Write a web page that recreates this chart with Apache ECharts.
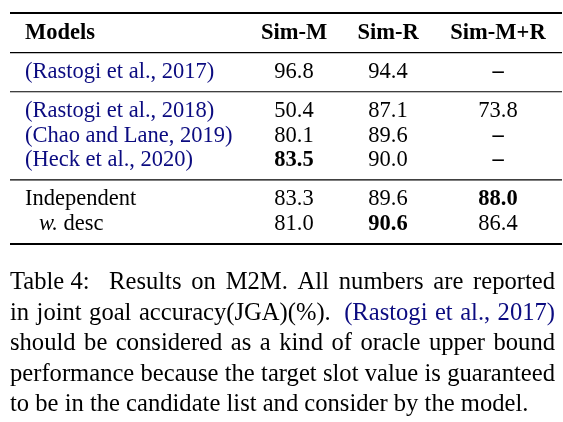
<!DOCTYPE html>
<html>
<head>
<meta charset="utf-8">
<script src="https://cdn.jsdelivr.net/npm/echarts@6/dist/echarts.min.js"></script>
<style>
html,body{margin:0;padding:0;background:#fff;}
#chart{width:563px;height:422px;}
</style>
</head>
<body>
<div id="chart"></div>
<script>
// ---- data ----
const columns = ['Models', 'Sim-M', 'Sim-R', 'Sim-M+R'];
const models = ['(Rastogi et al., 2017)', '(Rastogi et al., 2018)', '(Chao and Lane, 2019)', '(Heck et al., 2020)', 'Independent', 'w. desc'];
const simM = ['96.8', '50.4', '80.1', '83.5', '83.3', '81.0'];
const simR = ['94.4', '87.1', '89.6', '90.0', '89.6', '90.6'];
const simMR = ['–', '73.8', '–', '–', '88.0', '86.4'];
const rowGroups = [1, 2, 2, 2, 3, 3];
const isCitation = [true, true, true, true, false, false];
const isIndented = [false, false, false, false, false, true];
// bold (best) cells: [rowIndex, columnName]
const bestCells = [[3, 'Sim-M'], [5, 'Sim-R'], [4, 'Sim-M+R']];
const captionLines = [
  [['Table 4:', 0], ['Results', 0, 2], ['on', 0], ['M2M.', 0], ['All', 0], ['numbers', 0], ['are', 0], ['reported', 0]],
  [['in', 0], ['joint', 0], ['goal', 0], ['accuracy(JGA)(%).', 0], ['(Rastogi', 1, 1.8], ['et', 1], ['al.,', 1], ['2017)', 1]],
  [['should', 0], ['be', 0], ['considered', 0], ['as', 0], ['a', 0], ['kind', 0], ['of', 0], ['oracle', 0], ['upper', 0], ['bound', 0]],
  [['performance', 0], ['because', 0], ['the', 0], ['target', 0], ['slot', 0], ['value', 0], ['is', 0], ['guaranteed', 0]],
  [['to', 0], ['be', 0], ['in', 0], ['the', 0], ['candidate', 0], ['list', 0], ['and', 0], ['consider', 0], ['by', 0], ['the', 0], ['model.', 0]]
];

// ---- layout (not data) ----
const FONT = '"Liberation Serif", "Times New Roman", serif';
const TABLE_SIZE = 22.5;
const CAP_SIZE = 24.6;
const BLUE = '#0b0b80';
const colX = {'Models': 15, 'Sim-M': 284, 'Sim-R': 378, 'Sim-M+R': 488};
const indentPx = 14;
const groupGap = 0.6;
const ruleOuter = 0.82;
const rowPos = (i, g) => i + g * groupGap;   // header i=0,g=0
const capLeft = 10, capRight = 555, capTop = 283, capLineH = 30.5;

// cells
const cells = [];
columns.forEach((c, ci) => cells.push({value: [colX[c], 0], text: c, bold: true, align: ci === 0 ? 'left' : 'center'}));
models.forEach((m, i) => {
  const y = rowPos(i + 1, rowGroups[i]);
  cells.push({value: [colX['Models'] + (isIndented[i] ? indentPx : 0), y],
    text: m === 'w. desc' ? '{it|w.} desc' : m, blue: isCitation[i], align: 'left', rich: m === 'w. desc'});
  [['Sim-M', simM], ['Sim-R', simR], ['Sim-M+R', simMR]].forEach(([c, arr]) => {
    const bold = bestCells.some(b => b[0] === i && b[1] === c) || arr[i] === '–';
    cells.push({value: [colX[c], y], text: arr[i], bold: bold, align: 'center'});
  });
});

// rules
const lastRow = rowPos(models.length, rowGroups[rowGroups.length - 1]);
const rules = [{value: [-ruleOuter], w: 1.8}];
let prev = 0, prevG = 0;
models.forEach((m, i) => {
  const g = rowGroups[i];
  const y = rowPos(i + 1, g);
  if (g !== prevG) rules.push({value: [(prev + y) / 2], w: 1.1});
  prev = y; prevG = g;
});
rules.push({value: [lastRow + ruleOuter], w: 1.8});

// caption justified layout
const ctx = document.createElement('canvas').getContext('2d');
ctx.font = CAP_SIZE + 'px ' + FONT;
const graphics = [];
captionLines.forEach((line, li) => {
  const widths = line.map(w => ctx.measureText(w[0]).width);
  const total = widths.reduce((a, b) => a + b, 0);
  const last = li === captionLines.length - 1;
  let weights = 0;
  for (let k = 1; k < line.length; k++) weights += (line[k][2] || 1);
  const unit = last ? ctx.measureText(' ').width : (capRight - capLeft - total) / weights;
  let x = capLeft;
  line.forEach((w, k) => {
    if (k > 0) x += unit * (w[2] || 1);
    graphics.push({type: 'text', x: x, y: capTop + li * capLineH,
      style: {text: w[0], fill: w[1] ? BLUE : '#000', fontSize: CAP_SIZE, fontFamily: FONT, verticalAlign: 'middle', align: 'left'}});
    x += widths[k];
  });
});

const chart = echarts.init(document.getElementById('chart'), null, {renderer: 'canvas'});
chart.setOption({
  animation: false,
  backgroundColor: '#fff',
  grid: {left: 10, right: 1, top: 13, height: 231},
  xAxis: {type: 'value', min: 0, max: 552, show: false},
  yAxis: {type: 'value', min: -ruleOuter, max: lastRow + ruleOuter, inverse: true, show: false},
  graphic: graphics,
  series: [
    {
      type: 'custom', data: rules, silent: true,
      renderItem: (params, api) => {
        const y = api.value(0);
        const p1 = api.coord([0, y]);
        const p2 = api.coord([552, y]);
        const w = rules[params.dataIndex].w;
        return {type: 'line', shape: {x1: p1[0], y1: p1[1], x2: p2[0], y2: p2[1]}, style: {stroke: '#000', lineWidth: w}};
      }
    },
    {
      type: 'custom', data: cells, silent: true,
      renderItem: (params, api) => {
        const d = cells[params.dataIndex];
        const p = api.coord([api.value(0), api.value(1)]);
        return {type: 'text', x: p[0], y: p[1], style: {
          text: d.text, fill: d.blue ? BLUE : '#000', fontSize: TABLE_SIZE, fontFamily: FONT,
          fontWeight: d.bold ? 'bold' : 'normal', align: d.align, verticalAlign: 'middle',
          rich: d.rich ? {it: {fontStyle: 'italic', fontSize: TABLE_SIZE, fontFamily: FONT}} : undefined
        }};
      }
    }
  ]
});
</script>
</body>
</html>
